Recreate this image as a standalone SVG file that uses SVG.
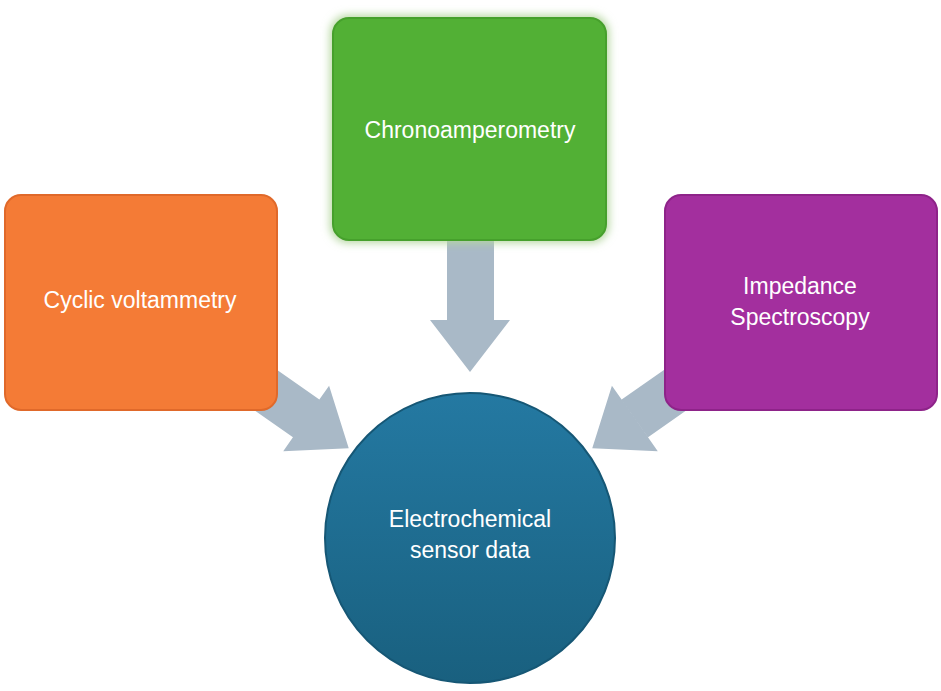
<svg xmlns="http://www.w3.org/2000/svg" width="941" height="691" viewBox="0 0 941 691">
<defs>
<style>
.lbl{font-family:"Liberation Sans",Arial,sans-serif;font-size:23px;fill:#fff;text-anchor:middle}
.arr{fill:#A9B9C7}
.box{stroke-width:2}
</style>
<filter id="glow" x="-20%" y="-20%" width="140%" height="140%"><feGaussianBlur stdDeviation="4"/></filter>
<linearGradient id="cg" x1="0" y1="0" x2="0" y2="1"><stop offset="0" stop-color="#2479A2"/><stop offset="1" stop-color="#19607F"/></linearGradient>
</defs>
<rect width="941" height="691" fill="#fff"/>
<g id="connectors">
<polygon class="arr" points="447,236 494,236 494,320 510,320 470,372 430,320 447,320"/>
<polygon class="arr" transform="translate(257,384) rotate(35)" points="-20,-23 60,-23 60,-40 112,0 60,40 60,23 -20,23"/>
<polygon class="arr" transform="translate(684,384) rotate(145)" points="-20,-23 60,-23 60,40 60,-40 112,0 60,40 60,23 -20,23"/>
</g>
<g id="cyclic">
<rect class="box" x="5" y="195" width="272" height="215" rx="16" fill="#F47B36" stroke="#E0692A"/>
<text class="lbl" x="140" y="308">Cyclic voltammetry</text>
</g>
<g id="chrono">
<rect x="330" y="15" width="279" height="228" rx="18" fill="#B5D7A0" filter="url(#glow)"/>
<rect class="box" x="333" y="18" width="273" height="222" rx="16" fill="#52B035" stroke="#46A02C"/>
<text class="lbl" x="470" y="138">Chronoamperometry</text>
</g>
<g id="impedance">
<rect class="box" x="665" y="195" width="272" height="215" rx="16" fill="#A32F9E" stroke="#8E2389"/>
<text class="lbl" x="800" y="294">Impedance</text>
<text class="lbl" x="800" y="325">Spectroscopy</text>
</g>
<g id="sensor">
<circle cx="470" cy="538" r="145" fill="url(#cg)" stroke="#165775" stroke-width="2"/>
<text class="lbl" x="470" y="527">Electrochemical</text>
<text class="lbl" x="470" y="558">sensor data</text>
</g>
</svg>
